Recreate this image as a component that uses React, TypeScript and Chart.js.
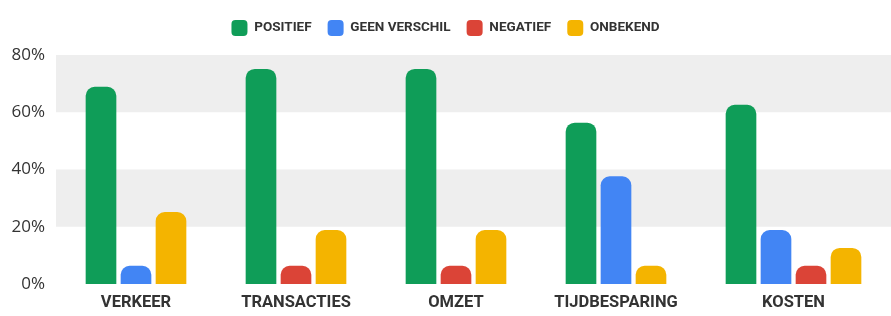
import React, { useEffect, useRef } from "react";
import { Chart, registerables } from "chart.js";

Chart.register(...registerables);

// ---- data ----
const categories = ["VERKEER", "TRANSACTIES", "OMZET", "TIJDBESPARING", "KOSTEN"];
const seriesNames = ["POSITIEF", "GEEN VERSCHIL", "NEGATIEF", "ONBEKEND"];
const positief = [68.75, 75, 75, 56.25, 62.5];
const geenVerschil = [6.25, null, null, 37.5, 18.75];
const negatief = [null, 6.25, 6.25, null, 6.25];
const onbekend = [25, 18.75, 18.75, 6.25, 12.5];
const yTicks = [0, 20, 40, 60, 80];

// ---- styles / layout ----
const seriesColors = ["#0F9D58", "#4285F4", "#DB4437", "#F4B400"];
const bandColor = "#eeeeee";
const textColor = "#333333";
const SLOT = 35; // distance between bars inside a group (x units)
const GROUP_STEP = 160; // distance between group starts
const GROUP_OFFSET = 45; // first bar centre from plot start
const X_RANGE = 835; // plot width in x units

const seriesValues: (number | null)[][] = [positief, geenVerschil, negatief, onbekend];

// rank of each present bar inside its category (null values are skipped)
function buildPoints() {
  const pts: { x: number; y: number }[][] = seriesValues.map(() => []);
  const centers: number[] = [];
  categories.forEach((_, ci) => {
    let rank = 0;
    seriesValues.forEach((vals, si) => {
      const v = vals[ci];
      if (v === null || v === undefined) return;
      pts[si].push({ x: GROUP_OFFSET + GROUP_STEP * ci + SLOT * rank, y: v });
      rank++;
    });
    centers.push(GROUP_OFFSET + GROUP_STEP * ci + (SLOT * (rank - 1)) / 2);
  });
  return { pts, centers };
}

export default function App() {
  const ref = useRef<HTMLCanvasElement | null>(null);

  useEffect(() => {
    if (!ref.current) return;
    const { pts, centers } = buildPoints();

    const bands = {
      id: "bands",
      beforeDatasetsDraw(chart: any) {
        const { ctx, chartArea } = chart;
        const y = chart.scales.y;
        ctx.save();
        ctx.fillStyle = bandColor;
        for (let i = 0; i < yTicks.length - 1; i++) {
          if ((yTicks.length - 2 - i) % 2 === 0) {
            const top = y.getPixelForValue(yTicks[i + 1]);
            const bot = y.getPixelForValue(yTicks[i]);
            ctx.fillRect(chartArea.left, top, chartArea.right - chartArea.left, bot - top);
          }
        }
        ctx.restore();
      },
    };

    const legendHeight = {
      id: "legendHeight",
      beforeInit(chart: any) {
        const lg = chart.legend;
        if (lg && !lg.__patched) {
          const orig = lg.fit;
          lg.fit = function () {
            orig.call(this);
            this.height = 51;
          };
          lg.__patched = true;
        }
      },
    };

    const chart = new Chart(ref.current, {
      type: "bar",
      data: {
        datasets: seriesNames.map((name, si) => ({
          label: name,
          data: pts[si],
          backgroundColor: seriesColors[si],
          borderColor: seriesColors[si],
          borderWidth: 0,
          borderRadius: 9,
          barThickness: 30,
          grouped: false,
        })),
      },
      options: {
        animation: false,
        responsive: false,
        maintainAspectRatio: false,
        layout: { padding: { top: 4, left: 0, right: 0, bottom: 0 } },
        plugins: {
          tooltip: { enabled: false },
          legend: {
            display: true,
            position: "top",
            labels: {
              boxWidth: 16,
              boxHeight: 16,
              useBorderRadius: true,
              borderRadius: 4,
              padding: 16,
              color: textColor,
              font: { family: "Roboto", size: 13.5, weight: "bold" },
            },
          },
        },
        scales: {
          x: {
            type: "linear",
            min: 0,
            max: X_RANGE,
            offset: false,
            grid: { display: false },
            border: { display: false },
            afterBuildTicks(scale: any) {
              scale.ticks = centers.map((v) => ({ value: v }));
            },
            afterFit(scale: any) {
              scale.height = 32;
            },
            ticks: {
              autoSkip: false,
              maxRotation: 0,
              padding: 1,
              color: textColor,
              font: { family: "Roboto", size: 16.5, weight: "bold" },
              callback: (_v: any, i: number) => categories[i],
            },
          },
          y: {
            min: 0,
            max: 80,
            grid: { display: false, drawTicks: false },
            border: { display: false },
            afterBuildTicks(scale: any) {
              scale.ticks = yTicks.map((v) => ({ value: v }));
            },
            afterFit(scale: any) {
              scale.width = 56;
            },
            ticks: {
              padding: 11,
              color: textColor,
              font: { family: "Open Sans", size: 17, weight: "500" },
              callback: (v: any) => v + "%",
            },
          },
        },
      },
      plugins: [bands, legendHeight],
    });
    return () => chart.destroy();
  }, []);

  return (
    <div style={{ position: "fixed", left: 0, top: 0, width: 891, height: 316, background: "#fff" }}>
      <canvas ref={ref} width={891} height={316} style={{ width: 891, height: 316 }} />
    </div>
  );
}
